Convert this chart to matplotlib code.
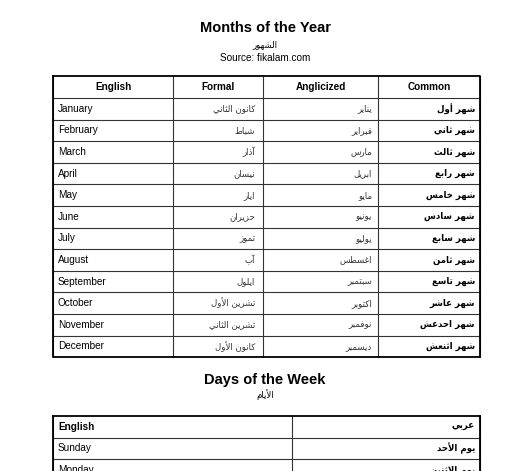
import matplotlib
matplotlib.use("Agg")
import matplotlib.pyplot as plt

# ---- data ----
month_headers = ["English", "Formal", "Anglicized", "Common"]
months_en = ["January", "February", "March", "April", "May", "June", "July",
             "August", "September", "October", "November", "December"]
months_formal = ["كانون الثاني", "شباط", "آذار", "نيسان", "ايار", "حزيران", "تموز",
                 "آب", "ايلول", "تشرين الأول", "تشرين الثاني", "كانون الأول"]
months_anglicized = ["يناير", "فبراير", "مارس", "ابريل", "مايو", "يونيو", "يوليو",
                     "اغسطس", "سبتمبر", "اكتوبر", "نوفمبر", "ديسمبر"]
months_common = ["شهر أول", "شهر ثاني", "شهر ثالث", "شهر رابع", "شهر خامس", "شهر سادس",
                 "شهر سابع", "شهر ثامن", "شهر تاسع", "شهر عاشر", "شهر احدعش", "شهر اثنعش"]
day_headers = ["English", "عربي"]
days_en = ["Sunday", "Monday"]
days_ar = ["يوم الأحد", "يوم الاثنين"]

# ---- minimal arabic shaping (matplotlib has none) ----
# letter -> (isolated, final, initial, medial); None for right-joining only
FORMS = {
    'ا': (0xFE8D, 0xFE8E), 'أ': (0xFE83, 0xFE84), 'آ': (0xFE81, 0xFE82), 'إ': (0xFE87, 0xFE88),
    'د': (0xFEA9, 0xFEAA), 'ذ': (0xFEAB, 0xFEAC), 'ر': (0xFEAD, 0xFEAE), 'ز': (0xFEAF, 0xFEB0),
    'و': (0xFEED, 0xFEEE), 'ة': (0xFE93, 0xFE94), 'ى': (0xFEEF, 0xFEF0),
}
for ch, base in [('ب', 0xFE8F), ('ت', 0xFE95), ('ث', 0xFE99), ('ج', 0xFE9D), ('ح', 0xFEA1),
                 ('خ', 0xFEA5), ('س', 0xFEB1), ('ش', 0xFEB5), ('ص', 0xFEB9), ('ض', 0xFEBD),
                 ('ط', 0xFEC1), ('ظ', 0xFEC5), ('ع', 0xFEC9), ('غ', 0xFECD), ('ف', 0xFED1),
                 ('ق', 0xFED5), ('ك', 0xFED9), ('ل', 0xFEDD), ('م', 0xFEE1), ('ن', 0xFEE5),
                 ('ه', 0xFEE9), ('ي', 0xFEF1)]:
    FORMS[ch] = (base, base + 1, base + 2, base + 3)
LAM_ALEF = {'ا': (0xFEFB, 0xFEFC), 'أ': (0xFEF7, 0xFEF8), 'آ': (0xFEF5, 0xFEF6), 'إ': (0xFEF9, 0xFEFA)}


def shape(text):
    chars = list(text)
    # merge lam-alef
    units = []
    i = 0
    while i < len(chars):
        if chars[i] == 'ل' and i + 1 < len(chars) and chars[i + 1] in LAM_ALEF:
            units.append(('LA', chars[i + 1]))
            i += 2
        else:
            units.append(('C', chars[i]))
            i += 1

    def joins_next(u):  # can connect to the following letter
        return u[0] == 'C' and u[1] in FORMS and len(FORMS[u[1]]) == 4

    def joinable(u):
        return u[0] == 'LA' or u[1] in FORMS

    out = []
    for k, u in enumerate(units):
        prev = units[k - 1] if k > 0 else None
        nxt = units[k + 1] if k + 1 < len(units) else None
        jp = prev is not None and joins_next(prev) and joinable(u)
        if u[0] == 'LA':
            f = LAM_ALEF[u[1]]
            out.append(chr(f[1] if jp else f[0]))
            continue
        ch = u[1]
        if ch not in FORMS:
            out.append(ch)
            continue
        f = FORMS[ch]
        jn = len(f) == 4 and nxt is not None and joinable(nxt)
        if jp and jn:
            out.append(chr(f[3]))
        elif jp:
            out.append(chr(f[1]))
        elif jn:
            out.append(chr(f[2]))
        else:
            out.append(chr(f[0]))
    return ''.join(reversed(out))


plt.rcParams['font.family'] = ['Liberation Sans', 'DejaVu Sans']

fig = plt.figure(figsize=(5.30, 4.71), dpi=100)
ax = fig.add_axes([0, 0, 1, 1])
ax.set_xlim(0, 530)
ax.set_ylim(471, 0)
ax.axis('off')

fs = 7.2
ar_fs = 6.2

# titles
ax.text(265, 28, "Months of the Year", ha='center', va='center', fontsize=10.5, fontweight='bold')
ax.text(265, 45, shape("الشهور"), ha='center', va='center', fontsize=ar_fs, family=['DejaVu Sans'])
ax.text(265, 58, "Source: fikalam.com", ha='center', va='center', fontsize=fs)

# months table
cols = [53, 173, 263, 378, 480]
top, hdr_h, row_h = 76, 22, 21.6
rows_y = [top + hdr_h + i * row_h for i in range(len(months_en) + 1)]
bottom = rows_y[-1]
for x in cols:
    ax.plot([x, x], [top, bottom], color='#333', lw=0.8)
for y in [top + hdr_h] + rows_y[1:-1]:
    ax.plot([cols[0], cols[-1]], [y, y], color='#333', lw=0.8)
ax.plot([cols[0], cols[-1], cols[-1], cols[0], cols[0]], [top, top, bottom, bottom, top], color='black', lw=1.3)

for j, h in enumerate(month_headers):
    ax.text((cols[j] + cols[j + 1]) / 2, top + hdr_h / 2, h, ha='center', va='center', fontsize=fs, fontweight='bold')
for i in range(len(months_en)):
    yc = rows_y[i] + row_h / 2
    ax.text(cols[0] + 5, yc, months_en[i], ha='left', va='center', fontsize=fs)
    ax.text(cols[2] - 8, yc, shape(months_formal[i]), ha='right', va='center', fontsize=ar_fs, family=['DejaVu Sans'], color='#333')
    ax.text(cols[3] - 6, yc, shape(months_anglicized[i]), ha='right', va='center', fontsize=ar_fs, family=['DejaVu Sans'], color='#333')
    ax.text(cols[4] - 5, yc, shape(months_common[i]), ha='right', va='center', fontsize=ar_fs, family=['DejaVu Sans'], fontweight='bold')

# days
ax.text(265, 380, "Days of the Week", ha='center', va='center', fontsize=10.5, fontweight='bold')
ax.text(265, 395, shape("الأيام"), ha='center', va='center', fontsize=ar_fs, family=['DejaVu Sans'])

dcols = [53, 292, 480]
dtop = 416
drows = [dtop + i * row_h for i in range(len(days_en) + 2)]
for x in dcols:
    ax.plot([x, x], [dtop, 480], color='#333', lw=0.8)
for y in drows[1:]:
    ax.plot([dcols[0], dcols[-1]], [y, y], color='#333', lw=0.8)
ax.plot([dcols[0], dcols[-1]], [dtop, dtop], color='black', lw=1.3)
ax.plot([dcols[0], dcols[0]], [dtop, 480], color='black', lw=1.3)
ax.plot([dcols[-1], dcols[-1]], [dtop, 480], color='black', lw=1.3)

ax.text(dcols[0] + 5, drows[0] + row_h / 2, day_headers[0], ha='left', va='center', fontsize=fs, fontweight='bold')
ax.text(dcols[2] - 5, drows[0] + row_h / 2, shape(day_headers[1]), ha='right', va='center', fontsize=ar_fs, family=['DejaVu Sans'], fontweight='bold')
for i in range(len(days_en)):
    yc = drows[i + 1] + row_h / 2
    ax.text(dcols[0] + 5, yc, days_en[i], ha='left', va='center', fontsize=fs)
    ax.text(dcols[2] - 5, yc, shape(days_ar[i]), ha='right', va='center', fontsize=ar_fs, family=['DejaVu Sans'], fontweight='bold')

fig.savefig("out.png", dpi=100)
